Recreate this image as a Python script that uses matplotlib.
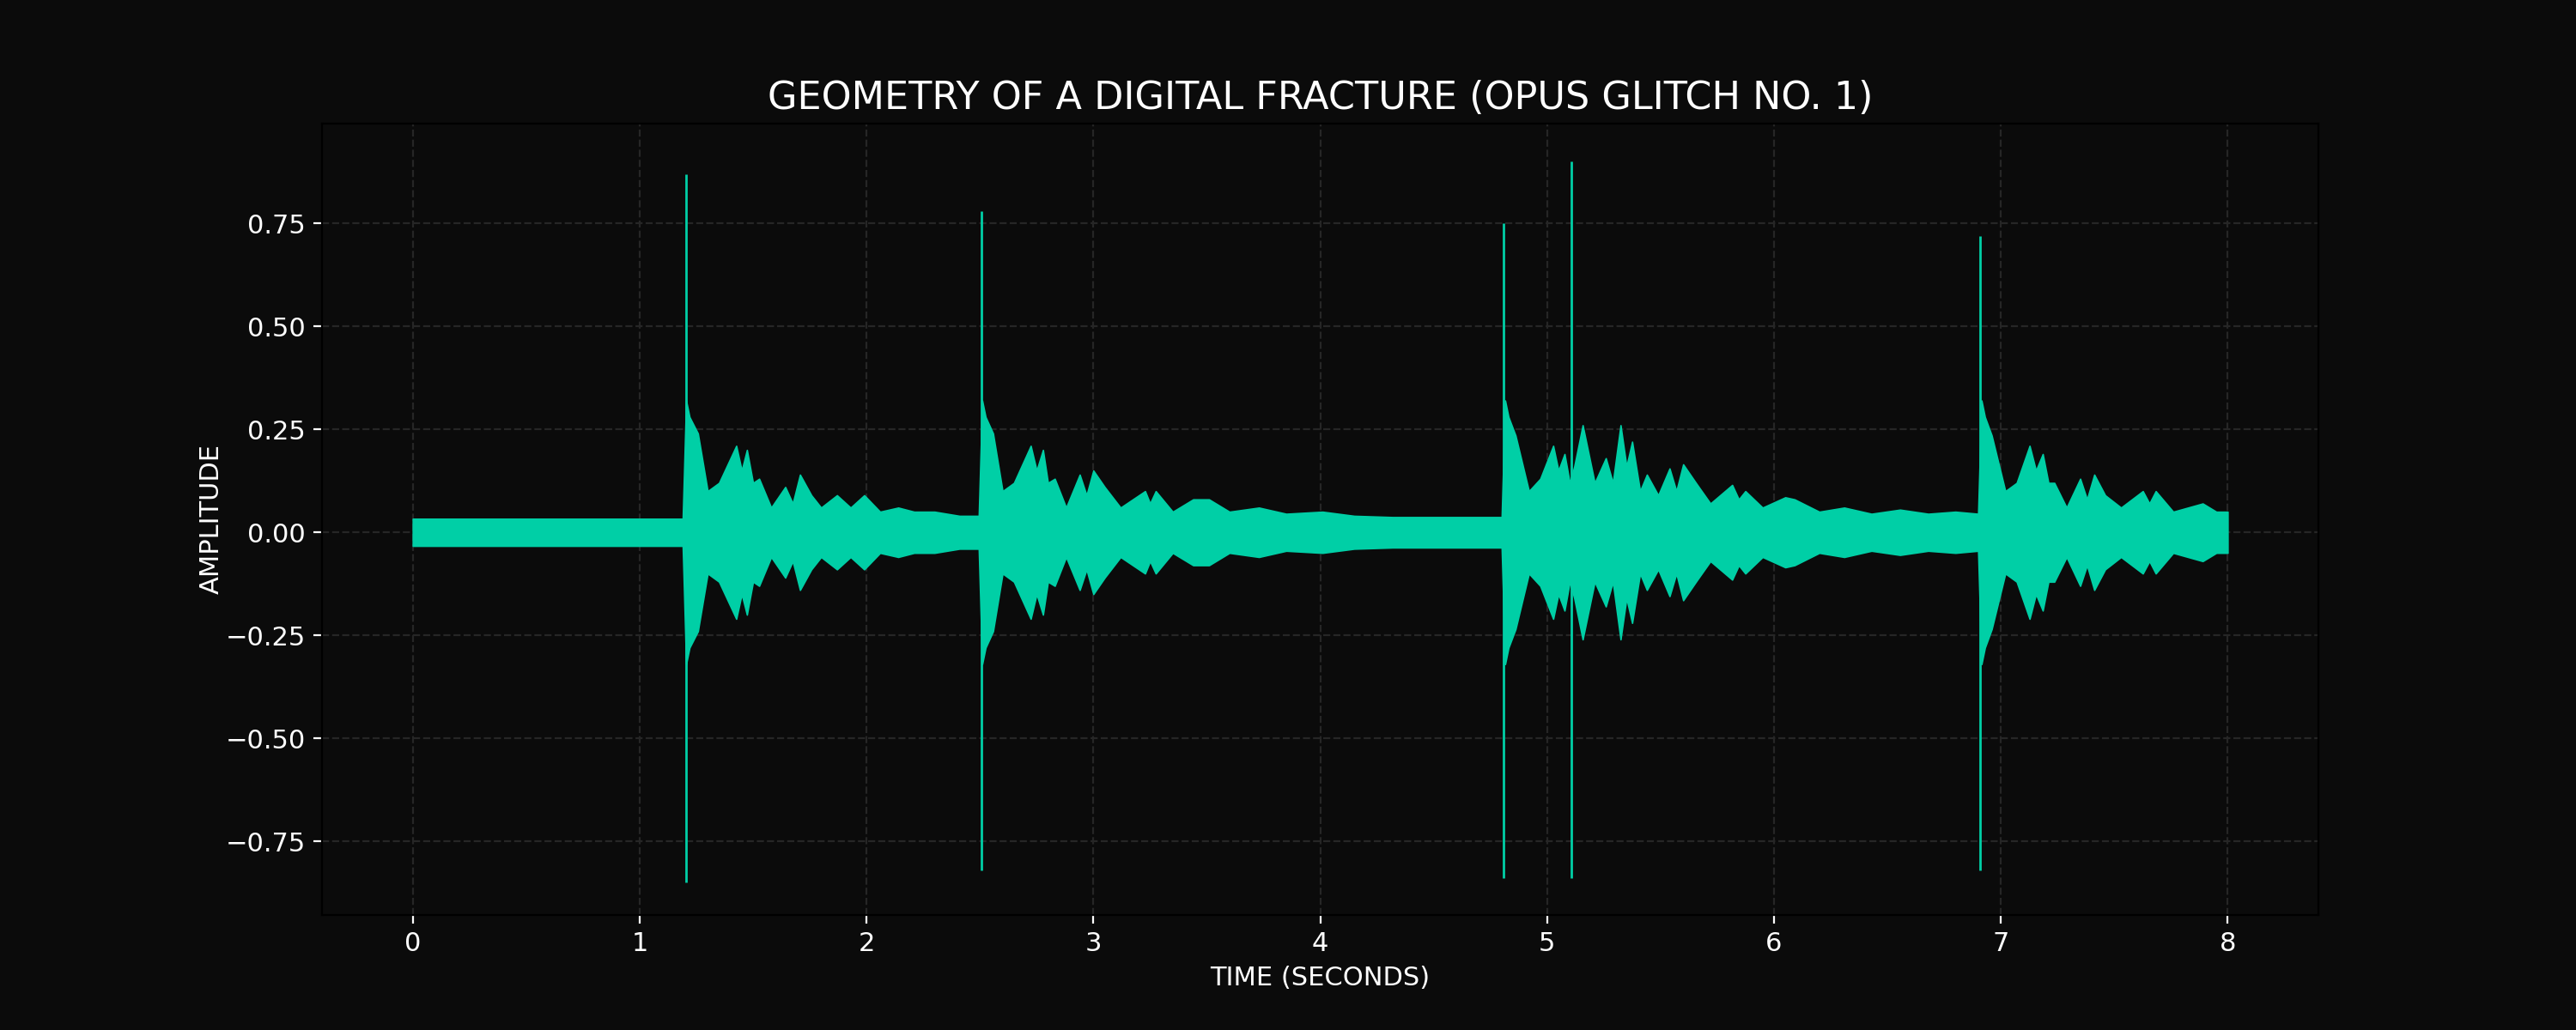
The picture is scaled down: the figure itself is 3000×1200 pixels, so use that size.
import numpy as np
import matplotlib.pyplot as plt

# envelope of the waveform (seconds, amplitude)
env_t = [0.00, 1.19, 1.205, 1.22, 1.257, 1.30, 1.35, 1.426, 1.45, 1.473, 1.50, 1.527, 1.58, 1.642, 1.675,
         1.707, 1.757, 1.80, 1.87, 1.93, 1.99, 2.06, 2.14, 2.21, 2.30, 2.41, 2.495,
         2.51, 2.525, 2.558, 2.60, 2.65, 2.724, 2.75, 2.778, 2.80, 2.83, 2.88, 2.94, 2.97, 3.00,
         3.05, 3.12, 3.228, 3.25, 3.275, 3.35, 3.44, 3.51, 3.60, 3.73, 3.85, 4.01, 4.15, 4.32, 4.80,
         4.815, 4.83, 4.861, 4.92, 4.97, 5.027, 5.05, 5.077, 5.10, 5.12, 5.157, 5.21, 5.259, 5.29,
         5.324, 5.35, 5.375, 5.41, 5.44, 5.49, 5.54, 5.57, 5.60, 5.656, 5.72, 5.816, 5.845, 5.874,
         5.95, 6.05, 6.091, 6.20, 6.31, 6.43, 6.556, 6.68, 6.80, 6.90,
         6.915, 6.93, 6.96, 7.02, 7.07, 7.127, 7.155, 7.185, 7.21, 7.236, 7.29, 7.35, 7.38,
         7.412, 7.46, 7.53, 7.626, 7.655, 7.683, 7.76, 7.89, 7.95, 8.00]
env_amp = [0.033, 0.033, 0.32, 0.28, 0.24, 0.10, 0.12, 0.21, 0.15, 0.20, 0.12, 0.13, 0.06, 0.11, 0.07,
           0.14, 0.09, 0.06, 0.09, 0.06, 0.09, 0.05, 0.06, 0.05, 0.05, 0.04, 0.04,
           0.32, 0.28, 0.24, 0.10, 0.12, 0.21, 0.15, 0.20, 0.12, 0.13, 0.06, 0.14, 0.09, 0.15,
           0.11, 0.06, 0.10, 0.07, 0.10, 0.05, 0.08, 0.08, 0.05, 0.06, 0.045, 0.05, 0.04, 0.037, 0.037,
           0.32, 0.28, 0.235, 0.10, 0.13, 0.21, 0.15, 0.19, 0.12, 0.16, 0.26, 0.12, 0.18, 0.12,
           0.26, 0.16, 0.22, 0.10, 0.14, 0.09, 0.155, 0.10, 0.165, 0.12, 0.07, 0.115, 0.08, 0.10,
           0.06, 0.085, 0.08, 0.05, 0.06, 0.045, 0.055, 0.045, 0.05, 0.045,
           0.32, 0.28, 0.235, 0.10, 0.12, 0.21, 0.15, 0.19, 0.12, 0.12, 0.06, 0.13, 0.08,
           0.14, 0.09, 0.06, 0.10, 0.07, 0.10, 0.05, 0.07, 0.05, 0.05]

# glitch spikes (time, top, bottom)
spike_t = [1.205, 2.505, 4.807, 5.108, 6.909]
spike_top = [0.87, 0.78, 0.75, 0.90, 0.72]
spike_bot = [-0.85, -0.82, -0.84, -0.84, -0.82]

teal = '#00cfa6'
bg = '#0b0b0b'

fig = plt.figure(figsize=(15, 6), dpi=200, facecolor=bg)
ax = fig.add_axes([0.125, 0.112, 0.775, 0.768], facecolor=bg)

env_t = np.array(env_t)
env_amp = np.array(env_amp)
ax.fill_between(env_t, -env_amp, env_amp, color=teal, lw=0.6)
ax.vlines(spike_t, spike_bot, spike_top, color=teal, lw=1.0)

ax.set_xlim(-0.4, 8.4)
ax.set_ylim(-0.928, 0.992)
ax.set_yticks([-0.75, -0.5, -0.25, 0, 0.25, 0.5, 0.75])
ax.grid(True, ls='--', color='#262626', lw=0.8)
ax.set_axisbelow(True)
for s in ax.spines.values():
    s.set_color('#000000')
ax.tick_params(colors='white', labelsize=11)
ax.set_title("GEOMETRY OF A DIGITAL FRACTURE (OPUS GLITCH NO. 1)", color='white', fontsize=16)
ax.set_xlabel("TIME (SECONDS)", color='white', fontsize=11)
ax.set_ylabel("AMPLITUDE", color='white', fontsize=11, labelpad=0.5)

fig.savefig('out.png', dpi=200, facecolor=bg)
